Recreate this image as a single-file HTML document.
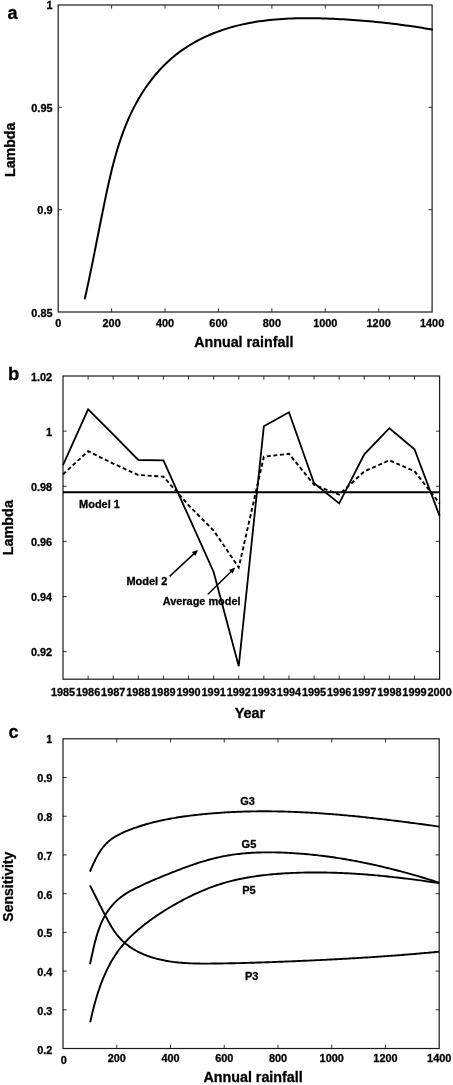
<!DOCTYPE html>
<html><head><meta charset="utf-8"><title>Figure</title>
<style>html,body{margin:0;padding:0;background:#fff}svg{display:block}text{font-family:"Liberation Sans",sans-serif;font-weight:bold;fill:#000;stroke:#000;stroke-width:0.3px}</style></head><body>
<svg width="453" height="1085" viewBox="0 0 453 1085">
<rect width="453" height="1085" fill="#fff"/>
<rect x="58.20" y="5.00" width="373.90" height="307.00" fill="none" stroke="#1a1a1a" stroke-width="1.20"/>
<path d="M111.61 312.00 v-3.70 M111.61 5.00 v3.70 M165.03 312.00 v-3.70 M165.03 5.00 v3.70 M218.44 312.00 v-3.70 M218.44 5.00 v3.70 M271.86 312.00 v-3.70 M271.86 5.00 v3.70 M325.27 312.00 v-3.70 M325.27 5.00 v3.70 M378.69 312.00 v-3.70 M378.69 5.00 v3.70 M58.20 209.67 h3.70 M432.10 209.67 h-3.70 M58.20 107.33 h3.70 M432.10 107.33 h-3.70 " stroke="#111" stroke-width="0.85" fill="none"/>
<text x="58.20" y="327.00" font-size="10.90" text-anchor="middle">0</text>
<text x="111.61" y="327.00" font-size="10.90" text-anchor="middle">200</text>
<text x="165.03" y="327.00" font-size="10.90" text-anchor="middle">400</text>
<text x="218.44" y="327.00" font-size="10.90" text-anchor="middle">600</text>
<text x="271.86" y="327.00" font-size="10.90" text-anchor="middle">800</text>
<text x="325.27" y="327.00" font-size="10.90" text-anchor="middle">1000</text>
<text x="378.69" y="327.00" font-size="10.90" text-anchor="middle">1200</text>
<text x="432.10" y="327.00" font-size="10.90" text-anchor="middle">1400</text>
<text x="52.50" y="317.20" font-size="10.90" text-anchor="end">0.85</text>
<text x="52.50" y="213.97" font-size="10.90" text-anchor="end">0.9</text>
<text x="52.50" y="111.64" font-size="10.90" text-anchor="end">0.95</text>
<text x="52.50" y="9.30" font-size="10.90" text-anchor="end">1</text>
<text x="243.80" y="346.90" font-size="14.30" text-anchor="middle">Annual rainfall</text>
<text x="14.70" y="149.80" font-size="14.20" text-anchor="middle" transform="rotate(-90 14.70 149.80)">Lambda</text>
<text x="7.60" y="19.20" font-size="18.00" text-anchor="start">a</text>
<path d="M84.87 298.43 L85.60 295.17 L86.33 291.91 L87.04 288.65 L87.74 285.39 L88.44 282.13 L89.13 278.87 L89.81 275.61 L90.49 272.36 L91.16 269.10 L91.82 265.85 L92.49 262.59 L93.14 259.34 L93.80 256.08 L94.45 252.83 L95.10 249.57 L95.75 246.32 L96.39 243.06 L97.04 239.81 L97.68 236.55 L98.33 233.29 L98.97 230.03 L99.62 226.78 L100.27 223.52 L100.92 220.25 L101.57 216.99 L102.23 213.73 L102.89 210.46 L103.56 207.19 L104.23 203.92 L104.91 200.65 L105.59 197.38 L106.28 194.11 L106.98 190.83 L107.69 187.55 L108.41 184.28 L109.14 181.00 L109.89 177.73 L110.65 174.46 L111.44 171.20 L112.24 167.94 L113.07 164.68 L113.92 161.44 L114.79 158.20 L115.70 154.97 L116.63 151.75 L117.59 148.54 L118.58 145.34 L119.61 142.15 L120.67 138.97 L121.76 135.81 L122.90 132.67 L124.08 129.54 L125.30 126.42 L126.56 123.32 L127.86 120.24 L129.22 117.18 L130.62 114.14 L132.07 111.13 L133.57 108.13 L135.12 105.16 L136.71 102.22 L138.36 99.31 L140.06 96.43 L141.81 93.58 L143.60 90.77 L145.45 87.99 L147.35 85.26 L149.30 82.56 L151.30 79.91 L153.35 77.30 L155.45 74.74 L157.61 72.23 L159.82 69.76 L162.08 67.35 L164.39 65.00 L166.76 62.70 L169.18 60.45 L171.65 58.27 L174.18 56.15 L176.76 54.09 L179.39 52.10 L182.07 50.17 L184.80 48.30 L187.57 46.50 L190.38 44.75 L193.24 43.07 L196.13 41.45 L199.06 39.89 L202.02 38.40 L205.02 36.96 L208.04 35.59 L211.10 34.28 L214.17 33.02 L217.27 31.83 L220.39 30.70 L223.53 29.63 L226.69 28.61 L229.86 27.65 L233.05 26.75 L236.26 25.90 L239.48 25.10 L242.72 24.36 L245.97 23.66 L249.23 23.01 L252.51 22.41 L255.80 21.86 L259.10 21.35 L262.41 20.89 L265.73 20.46 L269.05 20.08 L272.39 19.74 L275.73 19.44 L279.08 19.17 L282.43 18.94 L285.79 18.74 L289.16 18.57 L292.53 18.44 L295.90 18.34 L299.27 18.27 L302.64 18.22 L306.02 18.20 L309.39 18.21 L312.77 18.24 L316.14 18.29 L319.51 18.36 L322.87 18.45 L326.23 18.57 L329.59 18.69 L332.94 18.84 L336.29 19.00 L339.63 19.17 L342.96 19.36 L346.29 19.55 L349.61 19.76 L352.92 19.99 L356.23 20.22 L359.53 20.47 L362.83 20.73 L366.13 21.01 L369.42 21.30 L372.71 21.60 L375.99 21.92 L379.28 22.25 L382.56 22.59 L385.85 22.95 L389.13 23.32 L392.41 23.71 L395.70 24.11 L398.98 24.52 L402.27 24.95 L405.56 25.40 L408.85 25.86 L412.14 26.34 L415.44 26.83 L418.75 27.34 L422.05 27.86 L425.37 28.40 L428.69 28.96 L432.01 29.53" fill="none" stroke="#000" stroke-width="2.0" stroke-linecap="round" stroke-linejoin="round"/>
<rect x="63.00" y="376.00" width="376.60" height="303.20" fill="none" stroke="#1a1a1a" stroke-width="1.20"/>
<path d="M88.11 679.20 v-3.70 M88.11 376.00 v3.70 M113.21 679.20 v-3.70 M113.21 376.00 v3.70 M138.32 679.20 v-3.70 M138.32 376.00 v3.70 M163.43 679.20 v-3.70 M163.43 376.00 v3.70 M188.53 679.20 v-3.70 M188.53 376.00 v3.70 M213.64 679.20 v-3.70 M213.64 376.00 v3.70 M238.75 679.20 v-3.70 M238.75 376.00 v3.70 M263.85 679.20 v-3.70 M263.85 376.00 v3.70 M288.96 679.20 v-3.70 M288.96 376.00 v3.70 M314.07 679.20 v-3.70 M314.07 376.00 v3.70 M339.17 679.20 v-3.70 M339.17 376.00 v3.70 M364.28 679.20 v-3.70 M364.28 376.00 v3.70 M389.39 679.20 v-3.70 M389.39 376.00 v3.70 M414.49 679.20 v-3.70 M414.49 376.00 v3.70 M63.00 431.13 h3.70 M439.60 431.13 h-3.70 M63.00 486.25 h3.70 M439.60 486.25 h-3.70 M63.00 541.38 h3.70 M439.60 541.38 h-3.70 M63.00 596.51 h3.70 M439.60 596.51 h-3.70 M63.00 651.64 h3.70 M439.60 651.64 h-3.70 " stroke="#111" stroke-width="0.85" fill="none"/>
<text x="63.00" y="696.00" font-size="10.90" text-anchor="middle">1985</text>
<text x="88.11" y="696.00" font-size="10.90" text-anchor="middle">1986</text>
<text x="113.21" y="696.00" font-size="10.90" text-anchor="middle">1987</text>
<text x="138.32" y="696.00" font-size="10.90" text-anchor="middle">1988</text>
<text x="163.43" y="696.00" font-size="10.90" text-anchor="middle">1989</text>
<text x="188.53" y="696.00" font-size="10.90" text-anchor="middle">1990</text>
<text x="213.64" y="696.00" font-size="10.90" text-anchor="middle">1991</text>
<text x="238.75" y="696.00" font-size="10.90" text-anchor="middle">1992</text>
<text x="263.85" y="696.00" font-size="10.90" text-anchor="middle">1993</text>
<text x="288.96" y="696.00" font-size="10.90" text-anchor="middle">1994</text>
<text x="314.07" y="696.00" font-size="10.90" text-anchor="middle">1995</text>
<text x="339.17" y="696.00" font-size="10.90" text-anchor="middle">1996</text>
<text x="364.28" y="696.00" font-size="10.90" text-anchor="middle">1997</text>
<text x="389.39" y="696.00" font-size="10.90" text-anchor="middle">1998</text>
<text x="414.49" y="696.00" font-size="10.90" text-anchor="middle">1999</text>
<text x="439.60" y="696.00" font-size="10.90" text-anchor="middle">2000</text>
<text x="52.10" y="380.50" font-size="10.90" text-anchor="end">1.02</text>
<text x="52.10" y="435.63" font-size="10.90" text-anchor="end">1</text>
<text x="52.10" y="490.76" font-size="10.90" text-anchor="end">0.98</text>
<text x="52.10" y="545.88" font-size="10.90" text-anchor="end">0.96</text>
<text x="52.10" y="601.01" font-size="10.90" text-anchor="end">0.94</text>
<text x="52.10" y="656.14" font-size="10.90" text-anchor="end">0.92</text>
<text x="250.00" y="718.30" font-size="14.40" text-anchor="middle">Year</text>
<text x="13.40" y="527.70" font-size="14.40" text-anchor="middle" transform="rotate(-90 13.40 527.70)">Lambda</text>
<text x="7.90" y="379.80" font-size="18.50" text-anchor="start">b</text>
<path d="M63.00 492.2 H439.60" stroke="#000" stroke-width="1.9" fill="none"/>
<path d="M63.00 465.20 L88.11 409.30 L113.21 434.30 L138.32 460.00 L163.43 460.30 L188.53 516.20 L213.64 572.00 L238.75 666.20 L263.85 426.20 L288.96 412.20 L314.07 483.20 L339.17 503.40 L364.28 454.40 L389.39 428.20 L414.49 449.30 L439.60 516.00" fill="none" stroke="#000" stroke-width="1.8" stroke-linejoin="miter"/>
<path d="M63.00 474.30 L88.11 451.20 L113.21 463.60 L138.32 475.00 L163.43 476.60 L188.53 505.20 L213.64 530.50 L238.75 567.50 L263.85 456.70 L288.96 453.80 L314.07 484.80 L339.17 494.60 L364.28 471.40 L389.39 460.30 L414.49 471.20 L439.60 503.50" fill="none" stroke="#000" stroke-width="1.9" stroke-dasharray="4 2.6" stroke-linejoin="miter"/>
<text x="79.00" y="508.00" font-size="11.00" text-anchor="start">Model 1</text>
<text x="126.40" y="585.30" font-size="11.00" text-anchor="start">Model 2</text>
<text x="162.80" y="605.00" font-size="10.90" text-anchor="start">Average model</text>
<path d="M169.60 576.40 L194.34 553.40" stroke="#000" stroke-width="1.45" fill="none"/>
<path d="M198.00 550.00 L195.44 556.06 L191.77 552.11 Z" fill="#000"/>
<path d="M207.70 594.60 L231.65 570.92" stroke="#000" stroke-width="1.45" fill="none"/>
<path d="M235.20 567.40 L232.83 573.54 L229.04 569.70 Z" fill="#000"/>
<rect x="63.00" y="738.80" width="376.20" height="309.70" fill="none" stroke="#1a1a1a" stroke-width="1.20"/>
<path d="M116.74 1048.50 v-3.70 M116.74 738.80 v3.70 M170.49 1048.50 v-3.70 M170.49 738.80 v3.70 M224.23 1048.50 v-3.70 M224.23 738.80 v3.70 M277.97 1048.50 v-3.70 M277.97 738.80 v3.70 M331.71 1048.50 v-3.70 M331.71 738.80 v3.70 M385.46 1048.50 v-3.70 M385.46 738.80 v3.70 M63.00 1009.79 h3.70 M439.20 1009.79 h-3.70 M63.00 971.08 h3.70 M439.20 971.08 h-3.70 M63.00 932.36 h3.70 M439.20 932.36 h-3.70 M63.00 893.65 h3.70 M439.20 893.65 h-3.70 M63.00 854.94 h3.70 M439.20 854.94 h-3.70 M63.00 816.22 h3.70 M439.20 816.22 h-3.70 M63.00 777.51 h3.70 M439.20 777.51 h-3.70 " stroke="#111" stroke-width="0.85" fill="none"/>
<text x="116.74" y="1061.60" font-size="10.90" text-anchor="middle">200</text>
<text x="170.49" y="1061.60" font-size="10.90" text-anchor="middle">400</text>
<text x="224.23" y="1061.60" font-size="10.90" text-anchor="middle">600</text>
<text x="277.97" y="1061.60" font-size="10.90" text-anchor="middle">800</text>
<text x="331.71" y="1061.60" font-size="10.90" text-anchor="middle">1000</text>
<text x="385.46" y="1061.60" font-size="10.90" text-anchor="middle">1200</text>
<text x="439.20" y="1061.60" font-size="10.90" text-anchor="middle">1400</text>
<text x="63.80" y="1064.20" font-size="10.90" text-anchor="middle">0</text>
<text x="52.30" y="1054.00" font-size="10.90" text-anchor="end">0.2</text>
<text x="52.30" y="1014.69" font-size="10.90" text-anchor="end">0.3</text>
<text x="52.30" y="975.98" font-size="10.90" text-anchor="end">0.4</text>
<text x="52.30" y="937.26" font-size="10.90" text-anchor="end">0.5</text>
<text x="52.30" y="898.55" font-size="10.90" text-anchor="end">0.6</text>
<text x="52.30" y="859.84" font-size="10.90" text-anchor="end">0.7</text>
<text x="52.30" y="821.13" font-size="10.90" text-anchor="end">0.8</text>
<text x="52.30" y="782.41" font-size="10.90" text-anchor="end">0.9</text>
<text x="52.30" y="743.20" font-size="10.90" text-anchor="end">1</text>
<text x="253.10" y="1082.30" font-size="14.30" text-anchor="middle">Annual rainfall</text>
<text x="13.20" y="886.70" font-size="14.00" text-anchor="middle" transform="rotate(-90 13.20 886.70)">Sensitivity</text>
<text x="8.40" y="737.80" font-size="18.00" text-anchor="start">c</text>
<path d="M89.93 871.53 L90.60 870.03 L91.27 868.51 L91.95 866.98 L92.65 865.43 L93.36 863.88 L94.09 862.32 L94.84 860.76 L95.62 859.20 L96.41 857.66 L97.24 856.12 L98.09 854.61 L98.97 853.11 L99.89 851.65 L100.84 850.21 L101.83 848.81 L102.86 847.45 L103.93 846.13 L105.04 844.86 L106.20 843.64 L107.40 842.48 L108.65 841.37 L109.94 840.31 L111.27 839.29 L112.63 838.32 L114.03 837.40 L115.46 836.51 L116.91 835.67 L118.40 834.85 L119.90 834.08 L121.43 833.33 L122.97 832.61 L124.53 831.91 L126.10 831.24 L127.68 830.60 L129.27 829.97 L130.87 829.35 L132.47 828.75 L134.07 828.17 L135.68 827.60 L137.29 827.05 L138.91 826.51 L140.53 825.99 L142.15 825.48 L143.78 824.98 L145.41 824.50 L147.04 824.03 L148.68 823.57 L150.32 823.13 L151.96 822.70 L153.61 822.28 L155.26 821.87 L156.91 821.48 L158.57 821.09 L160.23 820.72 L161.89 820.36 L163.55 820.01 L165.21 819.67 L166.88 819.34 L168.55 819.02 L170.22 818.71 L171.90 818.41 L173.57 818.11 L175.25 817.83 L176.93 817.55 L178.61 817.29 L180.29 817.03 L181.97 816.78 L183.66 816.54 L185.34 816.30 L187.03 816.07 L188.71 815.85 L190.40 815.64 L192.09 815.43 L193.78 815.22 L195.47 815.03 L197.16 814.84 L198.85 814.65 L200.54 814.47 L202.23 814.29 L203.92 814.12 L205.61 813.96 L207.30 813.80 L209.00 813.65 L210.69 813.50 L212.38 813.36 L214.07 813.22 L215.77 813.08 L217.46 812.96 L219.15 812.83 L220.85 812.72 L222.54 812.60 L224.24 812.49 L225.93 812.39 L227.63 812.29 L229.32 812.20 L231.02 812.11 L232.71 812.03 L234.41 811.95 L236.10 811.87 L237.80 811.80 L239.50 811.74 L241.19 811.68 L242.89 811.62 L244.59 811.57 L246.28 811.53 L247.98 811.48 L249.68 811.44 L251.38 811.41 L253.07 811.38 L254.77 811.36 L256.47 811.34 L258.17 811.32 L259.87 811.31 L261.56 811.30 L263.26 811.30 L264.96 811.30 L266.66 811.30 L268.36 811.31 L270.06 811.32 L271.76 811.34 L273.45 811.36 L275.15 811.38 L276.85 811.41 L278.55 811.44 L280.25 811.47 L281.95 811.51 L283.65 811.56 L285.35 811.60 L287.05 811.65 L288.75 811.71 L290.44 811.76 L292.14 811.83 L293.84 811.89 L295.54 811.96 L297.24 812.03 L298.94 812.10 L300.64 812.18 L302.34 812.26 L304.04 812.35 L305.74 812.43 L307.43 812.53 L309.13 812.62 L310.83 812.72 L312.53 812.82 L314.23 812.92 L315.93 813.03 L317.62 813.14 L319.32 813.25 L321.02 813.36 L322.72 813.48 L324.42 813.60 L326.11 813.73 L327.81 813.85 L329.51 813.98 L331.21 814.12 L332.90 814.25 L334.60 814.39 L336.30 814.53 L337.99 814.67 L339.69 814.82 L341.38 814.96 L343.08 815.11 L344.78 815.27 L346.47 815.42 L348.17 815.58 L349.86 815.74 L351.56 815.90 L353.25 816.06 L354.95 816.23 L356.64 816.40 L358.33 816.57 L360.03 816.74 L361.72 816.92 L363.41 817.09 L365.11 817.27 L366.80 817.45 L368.49 817.64 L370.18 817.82 L371.87 818.01 L373.56 818.20 L375.26 818.39 L376.95 818.58 L378.64 818.77 L380.33 818.97 L382.02 819.16 L383.70 819.36 L385.39 819.56 L387.08 819.76 L388.77 819.97 L390.46 820.17 L392.15 820.38 L393.83 820.58 L395.52 820.79 L397.20 821.00 L398.89 821.21 L400.58 821.43 L402.26 821.64 L403.95 821.86 L405.63 822.07 L407.31 822.29 L409.00 822.51 L410.68 822.73 L412.36 822.95 L414.04 823.17 L415.72 823.39 L417.40 823.61 L419.08 823.84 L420.76 824.06 L422.44 824.29 L424.12 824.51 L425.80 824.74 L427.48 824.97 L429.16 825.20 L430.83 825.43 L432.51 825.66 L434.18 825.89 L435.86 826.12 L437.53 826.35 L439.21 826.58" fill="none" stroke="#000" stroke-width="1.9" stroke-linecap="butt" stroke-linejoin="round"/>
<path d="M89.92 885.31 L90.72 886.87 L91.51 888.43 L92.31 889.99 L93.10 891.55 L93.88 893.11 L94.67 894.67 L95.46 896.23 L96.24 897.79 L97.03 899.35 L97.82 900.92 L98.61 902.48 L99.40 904.05 L100.19 905.62 L100.99 907.19 L101.79 908.76 L102.60 910.34 L103.41 911.92 L104.23 913.51 L105.06 915.10 L105.89 916.69 L106.73 918.28 L107.58 919.88 L108.45 921.47 L109.33 923.05 L110.23 924.62 L111.15 926.17 L112.09 927.71 L113.05 929.23 L114.04 930.72 L115.06 932.19 L116.10 933.63 L117.18 935.03 L118.29 936.39 L119.44 937.72 L120.63 939.00 L121.85 940.24 L123.11 941.44 L124.40 942.61 L125.72 943.73 L127.08 944.81 L128.46 945.86 L129.87 946.86 L131.31 947.83 L132.78 948.77 L134.27 949.67 L135.78 950.53 L137.32 951.36 L138.88 952.15 L140.46 952.91 L142.06 953.64 L143.67 954.34 L145.31 955.00 L146.95 955.64 L148.62 956.24 L150.29 956.81 L151.98 957.36 L153.68 957.88 L155.39 958.36 L157.11 958.82 L158.83 959.26 L160.56 959.67 L162.29 960.05 L164.03 960.41 L165.77 960.74 L167.52 961.05 L169.27 961.34 L171.02 961.61 L172.77 961.85 L174.52 962.08 L176.28 962.29 L178.04 962.47 L179.80 962.64 L181.56 962.79 L183.32 962.93 L185.08 963.05 L186.85 963.16 L188.62 963.25 L190.39 963.33 L192.16 963.40 L193.93 963.45 L195.70 963.50 L197.47 963.54 L199.24 963.56 L201.02 963.58 L202.79 963.59 L204.56 963.60 L206.34 963.59 L208.11 963.59 L209.88 963.58 L211.65 963.56 L213.43 963.55 L215.20 963.53 L216.97 963.51 L218.74 963.48 L220.51 963.46 L222.28 963.43 L224.05 963.41 L225.82 963.38 L227.58 963.34 L229.35 963.31 L231.12 963.28 L232.88 963.24 L234.65 963.20 L236.42 963.16 L238.18 963.12 L239.95 963.08 L241.71 963.03 L243.48 962.99 L245.24 962.94 L247.01 962.89 L248.77 962.84 L250.54 962.79 L252.30 962.74 L254.06 962.68 L255.83 962.63 L257.59 962.57 L259.35 962.51 L261.12 962.46 L262.88 962.40 L264.64 962.34 L266.41 962.28 L268.17 962.21 L269.93 962.15 L271.69 962.09 L273.46 962.02 L275.22 961.96 L276.98 961.89 L278.75 961.82 L280.51 961.76 L282.27 961.69 L284.04 961.62 L285.80 961.55 L287.57 961.48 L289.33 961.41 L291.10 961.34 L292.86 961.26 L294.62 961.19 L296.39 961.12 L298.15 961.04 L299.92 960.97 L301.68 960.89 L303.45 960.82 L305.21 960.74 L306.98 960.66 L308.74 960.58 L310.51 960.50 L312.27 960.42 L314.04 960.34 L315.81 960.26 L317.57 960.17 L319.34 960.09 L321.10 960.01 L322.87 959.92 L324.63 959.83 L326.40 959.74 L328.16 959.66 L329.93 959.57 L331.70 959.48 L333.46 959.38 L335.23 959.29 L336.99 959.20 L338.76 959.10 L340.52 959.01 L342.29 958.91 L344.06 958.82 L345.82 958.72 L347.59 958.62 L349.35 958.52 L351.12 958.41 L352.88 958.31 L354.65 958.21 L356.41 958.10 L358.18 958.00 L359.94 957.89 L361.71 957.78 L363.47 957.67 L365.24 957.56 L367.00 957.45 L368.77 957.33 L370.53 957.22 L372.29 957.10 L374.06 956.99 L375.82 956.87 L377.59 956.75 L379.35 956.63 L381.11 956.51 L382.88 956.38 L384.64 956.26 L386.40 956.13 L388.17 956.01 L389.93 955.88 L391.69 955.75 L393.45 955.62 L395.22 955.48 L396.98 955.35 L398.74 955.21 L400.50 955.08 L402.26 954.94 L404.02 954.80 L405.79 954.66 L407.55 954.52 L409.31 954.37 L411.07 954.23 L412.83 954.08 L414.59 953.93 L416.35 953.78 L418.11 953.63 L419.86 953.48 L421.62 953.32 L423.38 953.16 L425.14 953.01 L426.90 952.85 L428.66 952.69 L430.41 952.52 L432.17 952.36 L433.93 952.19 L435.68 952.03 L437.44 951.86 L439.19 951.69" fill="none" stroke="#000" stroke-width="1.9" stroke-linecap="butt" stroke-linejoin="round"/>
<path d="M89.94 964.31 L90.33 962.58 L90.72 960.84 L91.11 959.08 L91.49 957.30 L91.88 955.51 L92.28 953.71 L92.67 951.90 L93.08 950.09 L93.50 948.27 L93.92 946.44 L94.36 944.61 L94.81 942.78 L95.28 940.95 L95.77 939.13 L96.27 937.31 L96.80 935.49 L97.35 933.69 L97.92 931.89 L98.52 930.10 L99.15 928.33 L99.81 926.58 L100.50 924.84 L101.22 923.11 L101.98 921.41 L102.77 919.73 L103.60 918.08 L104.47 916.45 L105.39 914.85 L106.34 913.27 L107.34 911.73 L108.38 910.21 L109.47 908.73 L110.59 907.29 L111.75 905.87 L112.96 904.50 L114.20 903.15 L115.48 901.85 L116.81 900.58 L118.17 899.36 L119.56 898.18 L121.00 897.03 L122.47 895.93 L123.98 894.88 L125.52 893.86 L127.09 892.89 L128.69 891.94 L130.31 891.03 L131.95 890.15 L133.60 889.29 L135.27 888.45 L136.95 887.63 L138.64 886.83 L140.32 886.03 L142.01 885.24 L143.70 884.46 L145.39 883.69 L147.09 882.93 L148.78 882.18 L150.48 881.43 L152.18 880.69 L153.88 879.95 L155.58 879.23 L157.28 878.50 L158.99 877.79 L160.70 877.08 L162.41 876.37 L164.12 875.67 L165.83 874.97 L167.55 874.28 L169.27 873.58 L170.99 872.90 L172.72 872.21 L174.44 871.53 L176.18 870.86 L177.91 870.18 L179.64 869.52 L181.38 868.86 L183.12 868.21 L184.87 867.56 L186.62 866.92 L188.37 866.29 L190.12 865.67 L191.88 865.05 L193.63 864.45 L195.40 863.86 L197.16 863.27 L198.93 862.70 L200.70 862.14 L202.47 861.59 L204.25 861.06 L206.03 860.54 L207.82 860.03 L209.60 859.54 L211.39 859.06 L213.19 858.60 L214.98 858.15 L216.78 857.72 L218.59 857.31 L220.39 856.92 L222.20 856.54 L224.01 856.18 L225.83 855.84 L227.65 855.52 L229.47 855.21 L231.30 854.93 L233.13 854.66 L234.96 854.40 L236.79 854.17 L238.63 853.95 L240.46 853.74 L242.30 853.55 L244.15 853.37 L245.99 853.21 L247.84 853.07 L249.68 852.94 L251.53 852.82 L253.38 852.71 L255.24 852.62 L257.09 852.54 L258.94 852.48 L260.80 852.43 L262.66 852.38 L264.51 852.35 L266.37 852.34 L268.23 852.33 L270.09 852.33 L271.95 852.34 L273.80 852.37 L275.66 852.40 L277.52 852.44 L279.38 852.50 L281.24 852.56 L283.10 852.63 L284.95 852.70 L286.81 852.79 L288.67 852.88 L290.52 852.98 L292.38 853.09 L294.23 853.21 L296.08 853.33 L297.93 853.46 L299.79 853.60 L301.64 853.75 L303.48 853.90 L305.33 854.06 L307.18 854.22 L309.03 854.40 L310.87 854.58 L312.72 854.77 L314.56 854.96 L316.41 855.17 L318.25 855.38 L320.09 855.59 L321.93 855.81 L323.77 856.04 L325.61 856.28 L327.45 856.52 L329.28 856.77 L331.12 857.03 L332.96 857.29 L334.79 857.56 L336.62 857.84 L338.45 858.12 L340.29 858.41 L342.12 858.70 L343.94 859.00 L345.77 859.31 L347.60 859.62 L349.43 859.94 L351.25 860.27 L353.07 860.60 L354.90 860.94 L356.72 861.28 L358.54 861.63 L360.36 861.99 L362.18 862.35 L363.99 862.71 L365.81 863.09 L367.63 863.46 L369.44 863.85 L371.25 864.24 L373.06 864.63 L374.88 865.03 L376.68 865.44 L378.49 865.85 L380.30 866.27 L382.11 866.69 L383.91 867.12 L385.71 867.55 L387.52 867.99 L389.32 868.43 L391.12 868.88 L392.92 869.33 L394.71 869.79 L396.51 870.25 L398.31 870.72 L400.10 871.19 L401.89 871.66 L403.68 872.15 L405.47 872.63 L407.26 873.12 L409.05 873.62 L410.83 874.12 L412.62 874.63 L414.40 875.13 L416.18 875.65 L417.97 876.17 L419.74 876.69 L421.52 877.22 L423.30 877.75 L425.08 878.28 L426.85 878.82 L428.62 879.36 L430.39 879.91 L432.16 880.46 L433.93 881.02 L435.70 881.58 L437.46 882.14 L439.23 882.71" fill="none" stroke="#000" stroke-width="1.9" stroke-linecap="butt" stroke-linejoin="round"/>
<path d="M90.21 1022.18 L90.62 1020.32 L91.03 1018.46 L91.46 1016.60 L91.89 1014.73 L92.34 1012.86 L92.79 1010.99 L93.26 1009.12 L93.74 1007.26 L94.23 1005.39 L94.73 1003.52 L95.25 1001.65 L95.78 999.79 L96.32 997.93 L96.88 996.07 L97.45 994.22 L98.04 992.37 L98.64 990.53 L99.27 988.70 L99.90 986.87 L100.56 985.04 L101.23 983.23 L101.93 981.42 L102.64 979.63 L103.37 977.84 L104.12 976.06 L104.89 974.30 L105.68 972.55 L106.50 970.80 L107.33 969.07 L108.19 967.36 L109.07 965.66 L109.97 963.97 L110.90 962.30 L111.85 960.64 L112.83 959.00 L113.83 957.38 L114.86 955.78 L115.91 954.19 L116.99 952.62 L118.10 951.07 L119.23 949.55 L120.40 948.04 L121.59 946.55 L122.80 945.08 L124.05 943.63 L125.31 942.21 L126.60 940.80 L127.92 939.41 L129.25 938.03 L130.61 936.68 L131.98 935.34 L133.38 934.02 L134.79 932.72 L136.23 931.43 L137.68 930.16 L139.14 928.91 L140.62 927.67 L142.12 926.45 L143.63 925.25 L145.15 924.05 L146.68 922.88 L148.23 921.71 L149.78 920.56 L151.35 919.43 L152.93 918.31 L154.52 917.20 L156.12 916.10 L157.72 915.02 L159.34 913.95 L160.96 912.89 L162.59 911.85 L164.23 910.81 L165.88 909.79 L167.53 908.77 L169.19 907.77 L170.85 906.78 L172.52 905.80 L174.20 904.83 L175.88 903.87 L177.56 902.92 L179.25 901.99 L180.95 901.06 L182.65 900.15 L184.36 899.25 L186.07 898.36 L187.79 897.49 L189.51 896.63 L191.24 895.78 L192.97 894.95 L194.71 894.13 L196.46 893.33 L198.21 892.54 L199.97 891.76 L201.73 891.00 L203.50 890.26 L205.27 889.53 L207.05 888.82 L208.83 888.12 L210.62 887.44 L212.42 886.78 L214.22 886.14 L216.03 885.51 L217.84 884.90 L219.66 884.31 L221.49 883.74 L223.32 883.18 L225.15 882.65 L226.99 882.13 L228.84 881.63 L230.69 881.15 L232.55 880.68 L234.41 880.23 L236.28 879.80 L238.15 879.39 L240.02 878.99 L241.90 878.60 L243.79 878.23 L245.67 877.88 L247.56 877.54 L249.46 877.21 L251.35 876.90 L253.25 876.60 L255.16 876.32 L257.06 876.05 L258.97 875.79 L260.88 875.54 L262.79 875.30 L264.71 875.08 L266.63 874.87 L268.54 874.67 L270.46 874.48 L272.38 874.30 L274.31 874.13 L276.23 873.97 L278.16 873.82 L280.08 873.68 L282.01 873.54 L283.93 873.42 L285.86 873.30 L287.78 873.20 L289.71 873.10 L291.64 873.00 L293.56 872.92 L295.49 872.84 L297.41 872.77 L299.34 872.71 L301.26 872.65 L303.19 872.60 L305.11 872.56 L307.04 872.52 L308.97 872.50 L310.89 872.48 L312.81 872.46 L314.74 872.45 L316.66 872.45 L318.59 872.46 L320.51 872.47 L322.44 872.49 L324.36 872.52 L326.28 872.55 L328.21 872.59 L330.13 872.63 L332.05 872.68 L333.97 872.74 L335.90 872.80 L337.82 872.87 L339.74 872.94 L341.66 873.02 L343.58 873.11 L345.51 873.20 L347.43 873.29 L349.35 873.40 L351.27 873.50 L353.19 873.62 L355.11 873.74 L357.03 873.86 L358.95 873.99 L360.87 874.12 L362.79 874.26 L364.70 874.40 L366.62 874.55 L368.54 874.71 L370.46 874.86 L372.37 875.03 L374.29 875.19 L376.21 875.37 L378.12 875.54 L380.04 875.72 L381.95 875.91 L383.87 876.10 L385.78 876.29 L387.70 876.49 L389.61 876.69 L391.52 876.90 L393.44 877.10 L395.35 877.32 L397.26 877.53 L399.17 877.76 L401.08 877.98 L402.99 878.21 L404.91 878.44 L406.81 878.67 L408.72 878.91 L410.63 879.15 L412.54 879.40 L414.45 879.64 L416.36 879.89 L418.26 880.15 L420.17 880.40 L422.08 880.66 L423.98 880.93 L425.89 881.19 L427.79 881.46 L429.69 881.73 L431.60 882.00 L433.50 882.27 L435.40 882.55 L437.30 882.83 L439.21 883.11" fill="none" stroke="#000" stroke-width="1.9" stroke-linecap="butt" stroke-linejoin="round"/>
<text x="240.20" y="805.00" font-size="11.00" text-anchor="start">G3</text>
<text x="241.60" y="847.50" font-size="11.00" text-anchor="start">G5</text>
<text x="242.20" y="894.20" font-size="11.00" text-anchor="start">P5</text>
<text x="245.00" y="979.60" font-size="11.00" text-anchor="start">P3</text>
</svg></body></html>
